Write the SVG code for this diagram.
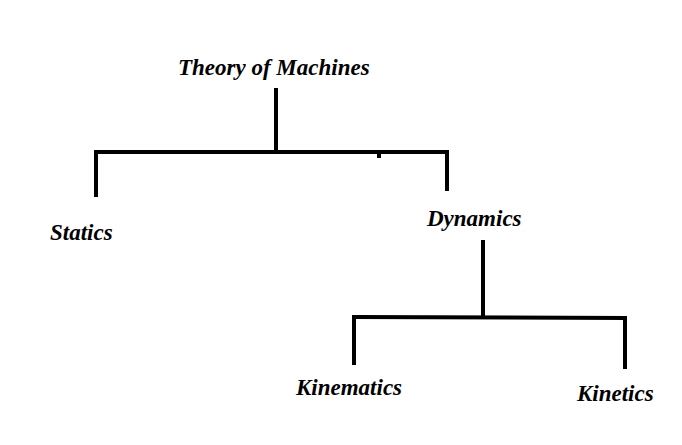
<svg xmlns="http://www.w3.org/2000/svg" width="682" height="445" viewBox="0 0 682 445">
<style>
text{font-family:"Liberation Serif","Times New Roman",serif;font-weight:bold;font-style:italic;font-size:23px;fill:#000}
.c{stroke:#000;stroke-width:4;fill:none;stroke-linecap:square}
</style>
<rect width="682" height="445" fill="#fff"/>
<g id="connectors">
<line class="c" x1="276" y1="90" x2="276" y2="152"/>
<line class="c" x1="96" y1="152" x2="447" y2="152"/>
<line class="c" x1="96" y1="152" x2="96" y2="195"/>
<line class="c" x1="447" y1="152" x2="447" y2="189"/>
<rect x="377" y="154" width="4" height="4" fill="#000"/>
<line class="c" x1="483" y1="242" x2="483" y2="316"/>
<line class="c" x1="354" y1="317" x2="625" y2="318"/>
<line class="c" x1="354" y1="317" x2="354" y2="363"/>
<line class="c" x1="625" y1="318" x2="625" y2="367"/>
</g>
<g id="theory"><text x="178" y="75">Theory of Machines</text></g>
<g id="statics"><text x="50" y="240">Statics</text></g>
<g id="dynamics"><text x="427" y="226">Dynamics</text></g>
<g id="kinematics"><text x="296" y="395">Kinematics</text></g>
<g id="kinetics"><text x="577" y="401">Kinetics</text></g>
</svg>
